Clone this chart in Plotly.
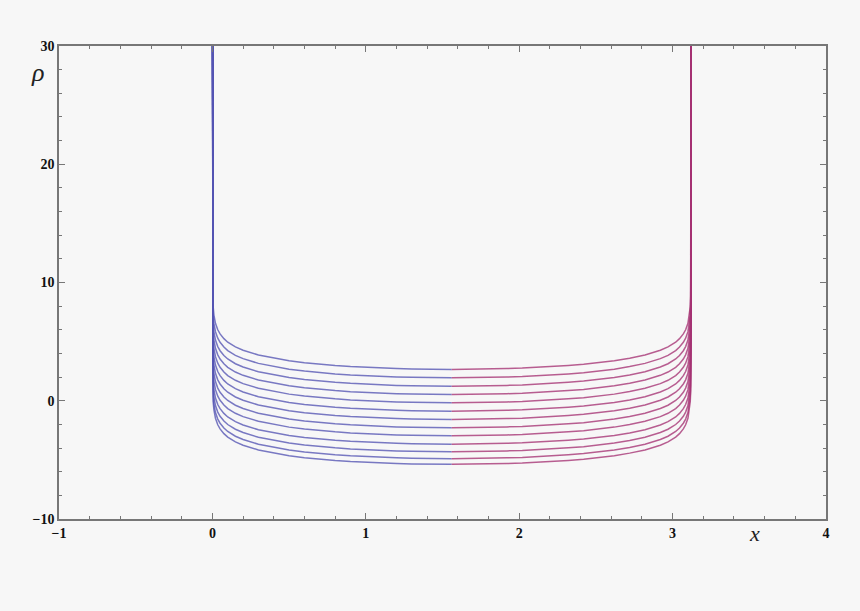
"""Family of rho(x) curves, blue left half / magenta right half."""
import plotly.graph_objects as go

# half-profile of each curve: x position and rise above the curve's minimum
half_x = [0.0, 0.002, 0.005, 0.01, 0.02, 0.035, 0.05, 0.075, 0.1, 0.15, 0.2,
          0.3, 0.4, 0.5, 0.6, 0.7, 0.8, 0.9, 1.0, 1.1, 1.2, 1.3, 1.4, 1.5, 1.56]
half_rise = [40.0, 6.2, 5.3, 4.6, 3.9, 3.35, 3.0, 2.6, 2.3, 1.9, 1.62,
             1.22, 0.95, 0.73, 0.57, 0.43, 0.33, 0.24, 0.17, 0.11, 0.07, 0.04, 0.015, 0.003, 0.0]
x_right_end = 3.12

# minimum value of each curve (at the middle)
curve_min = [2.65, 1.94, 1.23, 0.53, -0.17, -0.88, -1.58, -2.28, -2.96, -3.67, -4.31, -4.9, -5.38]

x_ticks = [-1, 0, 1, 2, 3, 4]
y_ticks = [-10, 0, 10, 20, 30]

BLUE = "rgba(85,85,180,0.78)"
MAGENTA = "rgba(165,50,115,0.78)"
BG = "#f7f7f7"
FRAME = "#777777"
serif = "Liberation Serif"

fig = go.Figure()
for m in curve_min:
    left_y = [m + r for r in half_rise]
    right_x = [x_right_end - x for x in reversed(half_x)]
    right_y = list(reversed(left_y))
    fig.add_trace(go.Scatter(x=half_x, y=left_y, mode="lines",
                             line=dict(color=BLUE, width=1.5), showlegend=False))
    fig.add_trace(go.Scatter(x=right_x, y=right_y, mode="lines",
                             line=dict(color=MAGENTA, width=1.5), showlegend=False))

axis_common = dict(showgrid=False, zeroline=False, showline=True, linecolor=FRAME,
                   linewidth=1.5, mirror="allticks", ticks="inside", ticklen=6,
                   tickcolor=FRAME, tickwidth=1,
                   tickfont=dict(family=serif, size=14, color="#111", weight="bold"))

fig.update_xaxes(range=[-1, 4], tickvals=x_ticks, **axis_common,
                 minor=dict(dtick=0.2, ticks="inside", ticklen=3, tickcolor=FRAME))
fig.update_yaxes(range=[-10, 30], tickvals=y_ticks, **axis_common,
                 minor=dict(dtick=2, ticks="inside", ticklen=3, tickcolor=FRAME))

fig.add_annotation(text="<i>ρ</i>", xref="paper", yref="paper", x=-0.028, y=0.945,
                   showarrow=False, font=dict(family=serif, size=26, color="#222"),
                   xanchor="center", yanchor="middle")
fig.add_annotation(text="<i>x</i>", xref="paper", yref="paper", x=0.907, y=-0.030,
                   showarrow=False, font=dict(family=serif, size=22, color="#222"),
                   xanchor="center", yanchor="middle")

fig.update_layout(width=860, height=611, paper_bgcolor=BG, plot_bgcolor=BG,
                  margin=dict(l=59, r=34, t=46, b=92))

fig.write_html("out.html", config={"displayModeBar": False},
               post_script="document.body.style.margin='0';"
                           "document.body.style.background='#f7f7f7';")
